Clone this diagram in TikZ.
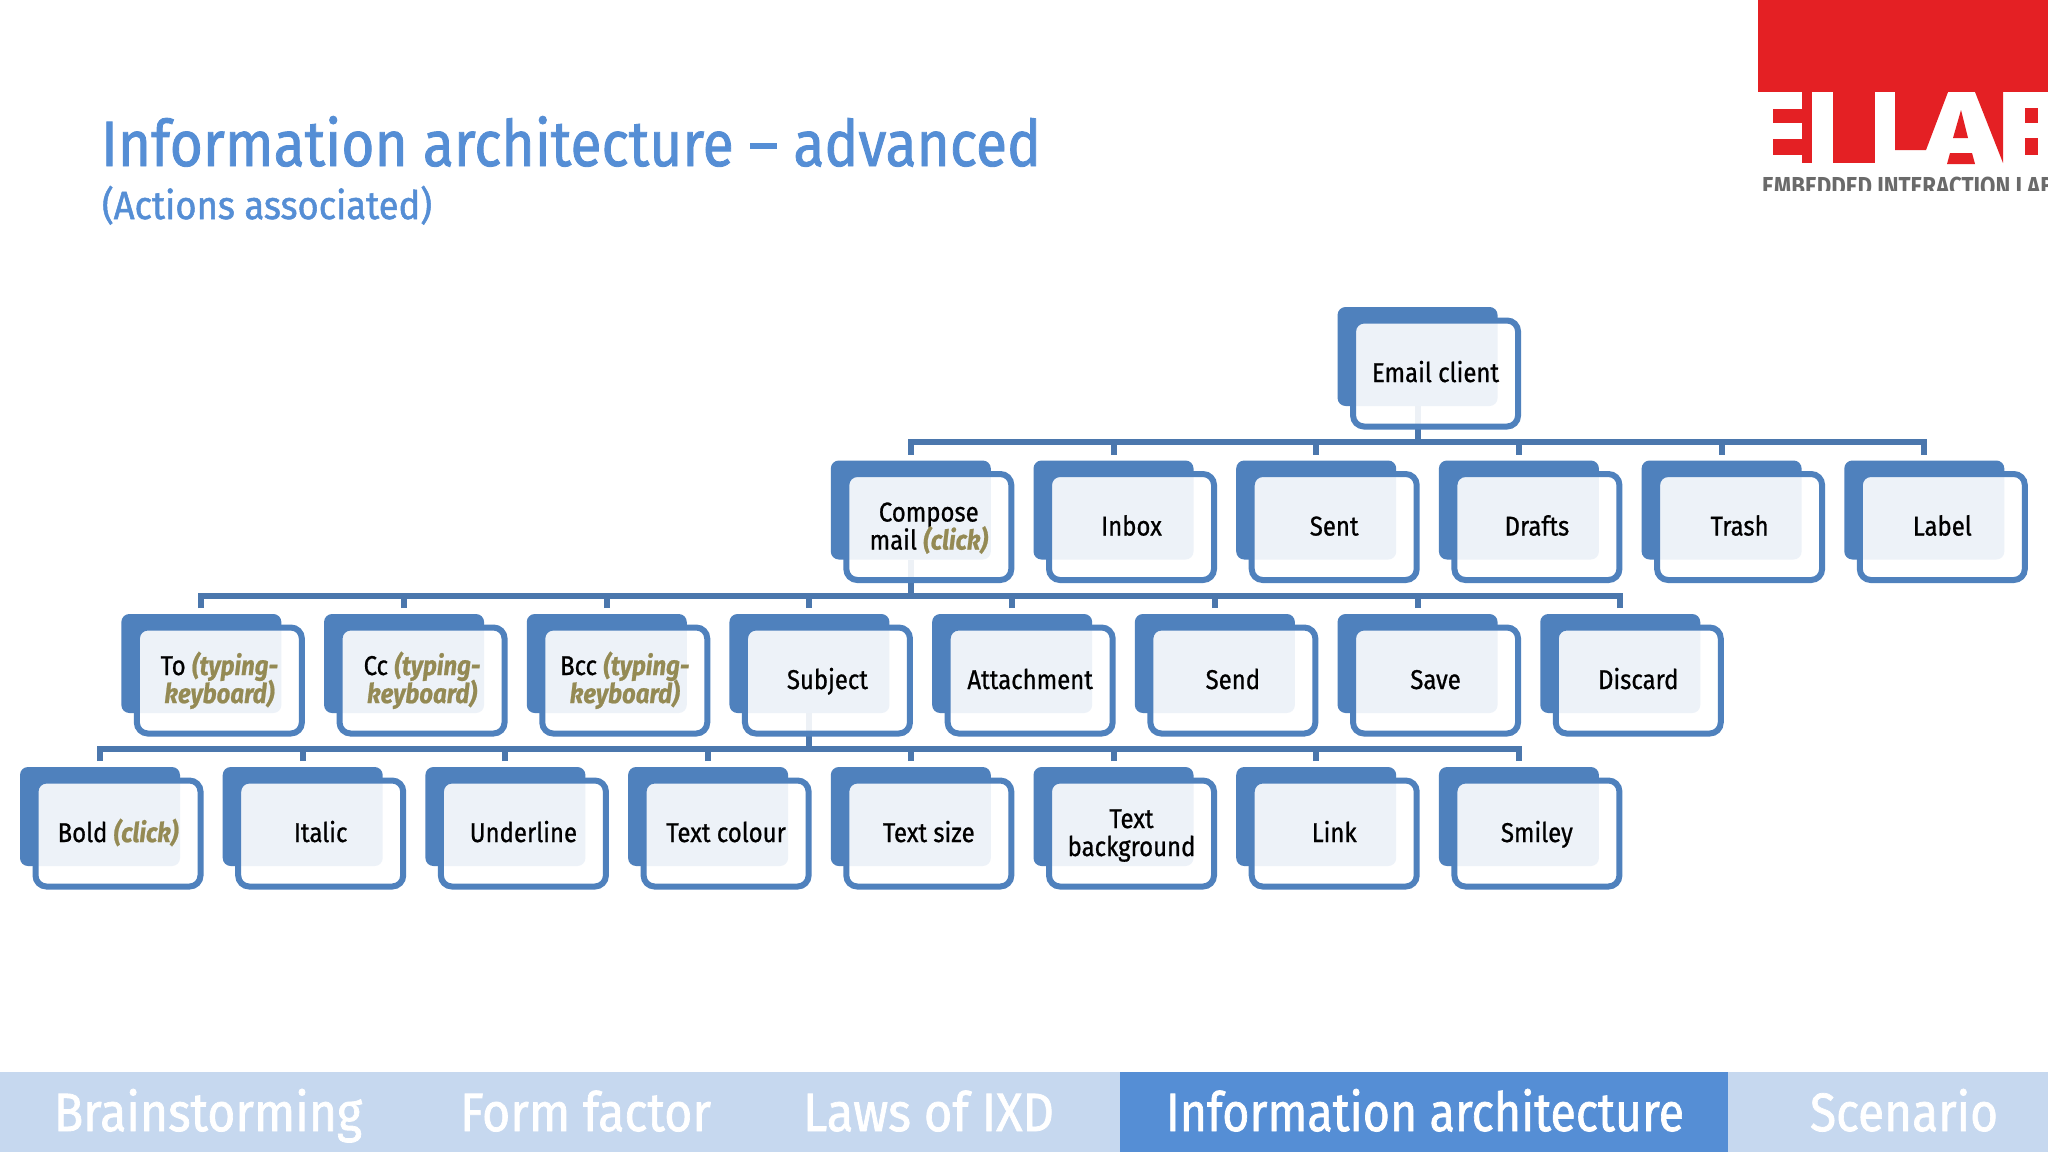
\documentclass[tikz,border=0pt]{standalone}
\usepackage{fontspec}
\setmainfont{Fira Sans}
\newfontfamily\medf[FakeBold=1.4]{Fira Sans}
\newfontfamily\boxf[FakeStretch=0.88,FakeBold=0.8]{Fira Sans}
\definecolor{back}{HTML}{4F81BD}
\definecolor{busc}{HTML}{4B77AD}
\definecolor{titlec}{HTML}{558ED5}
\definecolor{tabl}{HTML}{C6D8EF}
\definecolor{acts}{HTML}{948A54}
\definecolor{logor}{HTML}{E42024}
\definecolor{logog}{HTML}{6A6A6A}
\newcommand\fitw[2]{\resizebox{#1}{\height}{#2}}
\newcommand\lstrut{\rule[-3.9pt]{0pt}{16.3pt}}
\newcommand\act[1]{{\color{acts}\bfseries\itshape #1}}
\newcommand\boxfont{\boxf\fontsize{13.6}{14}\selectfont\lineskiplimit -20pt\relax}
\tikzset{
  backbox/.style={fill=back,rounded corners=4pt,minimum width=80pt,minimum height=49.5pt,inner sep=0pt,outer sep=0pt},
  frontbox/.style={draw=back,line width=3pt,fill=white,fill opacity=.9,text opacity=1,rounded corners=5.5pt,minimum width=82.5pt,minimum height=53pt,inner sep=0pt,outer sep=0pt,align=center,text=black,font=\boxfont},
  link/.style={draw=busc,line width=3pt,line cap=butt},
  plain/.style={inner sep=0pt,outer sep=0pt,anchor=base west},
  logofill/.style={fill=logor,draw=none},
}
\newcommand\bxback[4]{\node[backbox] (b#1) at ({20+202.7*#2+80},{#3+49.5}) {};}
\newcommand\bxfront[4]{\node[frontbox] (#1) at ({20+202.7*#2+98},{#3+66.5}) {#4};}
\newcommand\allboxes{%
  \bx{email}{6.5}{307}{\lstrut Email client}
  \bx{compose}{4}{460.5}{\lstrut Compose\\\lstrut mail \act{(click)}}
  \bx{inbox}{5}{460.5}{\lstrut Inbox}
  \bx{sent}{6}{460.5}{\lstrut Sent}
  \bx{drafts}{7}{460.5}{\lstrut Drafts}
  \bx{trash}{8}{460.5}{\lstrut Trash}
  \bx{label}{9}{460.5}{\lstrut Label}
  \bx{to}{0.5}{614}{\lstrut To \act{(typing-}\\\lstrut\act{keyboard)}}
  \bx{cc}{1.5}{614}{\lstrut Cc \act{(typing-}\\\lstrut\act{keyboard)}}
  \bx{bcc}{2.5}{614}{\lstrut Bcc \act{(typing-}\\\lstrut\act{keyboard)}}
  \bx{subject}{3.5}{614}{\lstrut Subject}
  \bx{attachment}{4.5}{614}{\lstrut Attachment}
  \bx{send}{5.5}{614}{\lstrut Send}
  \bx{save}{6.5}{614}{\lstrut Save}
  \bx{discard}{7.5}{614}{\lstrut Discard}
  \bx{bold}{0}{767}{\lstrut Bold \act{(click)}}
  \bx{italic}{1}{767}{\lstrut Italic}
  \bx{underline}{2}{767}{\lstrut Underline}
  \bx{textcolour}{3}{767}{\lstrut Text colour}
  \bx{textsize}{4}{767}{\lstrut Text size}
  \bx{textbg}{5}{767}{\lstrut Text\\\lstrut background}
  \bx{linkb}{6}{767}{\lstrut Link}
  \bx{smiley}{7}{767}{\lstrut Smiley}
}
\begin{document}
\begin{tikzpicture}[x=0.5pt,y=-0.5pt]
\useasboundingbox (0,0) rectangle (2048,1152);
\fill[white] (0,0) rectangle (2048,1152);

% logo
\fill[logofill] (1758,0) rectangle (2048,92);
\fill[logofill] (1773,109) rectangle (1803,123);
\fill[logofill] (1773,139) rectangle (1803,155);
\fill[logofill] (1802,92) rectangle (1812,163);
\fill[logofill] (1833,92) rectangle (1875,163);
\fill[logofill] (1895,92) -- (1948,92) -- (1926,150) -- (1895,150) -- cycle;
\fill[logofill] (1975,92) -- (2003,92) -- (2003,163) -- cycle;
\fill[logofill] (1961,110) -- (1968,138) -- (1953,138) -- cycle;
\fill[logofill] (1950,153) -- (1972,153) -- (1975,164) -- (1947,164) -- cycle;
\fill[logofill] (2025,108) rectangle (2038,123);
\fill[logofill] (2025,138) rectangle (2038,155);
\begin{scope}
\clip (1750,170) rectangle (2048,190);
\node[plain,text=logog,font=\bfseries\fontsize{13}{14}\selectfont] (logotext) at (1762,195) {\fitw{146pt}{EMBEDDED INTERACTION LAB}};
\end{scope}

% titles
\node[plain,text=titlec,font=\medf\fontsize{32}{34}\selectfont] (title) at (101,166) {\fitw{470pt}{Information architecture – advanced}};
\node[plain,text=titlec,font=\medf\fontsize{19.6}{22}\selectfont] (subtitle) at (102,219) {\fitw{165pt}{(Actions associated)}};

% tree
\let\bx\bxback
\allboxes
\coordinate (busA) at (0,442);
\coordinate (busB) at (0,595.5);
\coordinate (busC) at (0,749);
\draw[link] (bemail.south) -- (bemail.south |- busA);
\draw[link,line cap=rect] (bcompose.north |- busA) -- (blabel.north |- busA);
\foreach \c in {compose,inbox,sent,drafts,trash,label}
  \draw[link,shorten <=3pt] (b\c.north) -- (b\c.north |- busA);
\draw[link] (bcompose.south) -- (bcompose.south |- busB);
\draw[link,line cap=rect] (bto.north |- busB) -- (bdiscard.north |- busB);
\foreach \c in {to,cc,bcc,subject,attachment,send,save,discard}
  \draw[link,shorten <=3pt] (b\c.north) -- (b\c.north |- busB);
\draw[link] (bsubject.south) -- (bsubject.south |- busC);
\draw[link,line cap=rect] (bbold.north |- busC) -- (bsmiley.north |- busC);
\foreach \c in {bold,italic,underline,textcolour,textsize,textbg,linkb,smiley}
  \draw[link,shorten <=3pt] (b\c.north) -- (b\c.north |- busC);
\let\bx\bxfront
\allboxes

% tab bar
\fill[tabl] (0,1072) rectangle (2048,1152);
\fill[titlec] (1120,1072) rectangle (1728,1152);
\begin{scope}[every node/.style={plain,text=white,font=\medf\fontsize{27}{30}\selectfont}]
\node (tab1) at (54,1131) {\fitw{154pt}{Brainstorming}};
\node (tab2) at (460,1131) {\fitw{125.5pt}{Form factor}};
\node (tab3) at (803,1131) {\fitw{125.5pt}{Laws of IXD}};
\node (tab4) at (1166,1131) {\fitw{259pt}{Information architecture}};
\node (tab5) at (1810,1131) {\fitw{94pt}{Scenario}};
\end{scope}
\end{tikzpicture}
\end{document}
